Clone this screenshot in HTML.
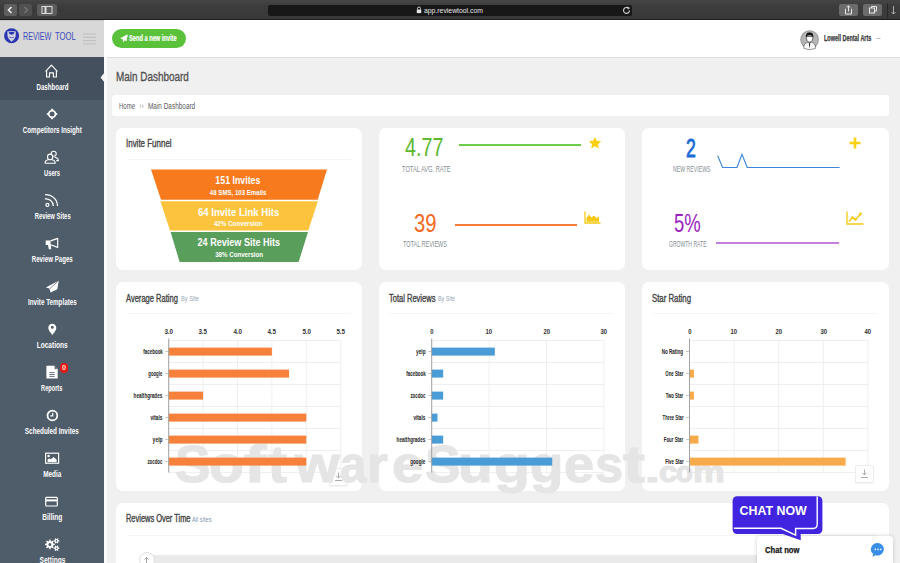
<!DOCTYPE html>
<html><head><meta charset="utf-8">
<style>
*{box-sizing:border-box;margin:0;padding:0}
html,body{width:900px;height:563px;overflow:hidden;background:#f0f0f0;font-family:"Liberation Sans",sans-serif;position:relative}
.a{position:absolute}
.t{position:absolute;white-space:nowrap;line-height:1}
svg{position:absolute;overflow:visible}
.card{position:absolute;background:#fff;border-radius:7px}
</style></head><body>
<div class="a" style="left:0;top:0;width:900px;height:20px;background:linear-gradient(#454545,#3c3c3c 30%,#393939)"></div>
<div class="a" style="left:0;top:18.7px;width:900px;height:1.3px;background:#1e1e1e"></div>
<div class="a" style="left:4px;top:4px;width:13px;height:12px;background:#5e5e5e;border-radius:2px"></div>
<div class="a" style="left:19px;top:4px;width:13px;height:12px;background:#505050;border-radius:2px"></div>
<div class="a" style="left:37px;top:4px;width:20px;height:12px;background:#5c5c5c;border-radius:2px"></div>
<svg style="left:4px;top:4px" width="13" height="12"><path d="M7.5 3 L4.5 6 L7.5 9" stroke="#eee" stroke-width="1.6" fill="none"/></svg>
<svg style="left:19px;top:4px" width="13" height="12"><path d="M5.5 3 L8.5 6 L5.5 9" stroke="#777" stroke-width="1.4" fill="none"/></svg>
<svg style="left:37px;top:4px" width="20" height="12"><rect x="5" y="2.5" width="10" height="7" stroke="#ddd" stroke-width="1" fill="none"/><rect x="7.5" y="3" width="2" height="6" fill="#ddd"/></svg>
<div class="a" style="left:268px;top:5px;width:364px;height:11px;background:#171717;border-radius:2px"></div>
<svg style="left:416px;top:6px" width="6" height="8"><path d="M1.5 3.5 V2.5 A1.5 1.5 0 0 1 4.5 2.5 V3.5" stroke="#ddd" stroke-width="0.9" fill="none"/><rect x="0.8" y="3.5" width="4.4" height="3.6" fill="#e6e6e6"/></svg>
<svg style="left:622px;top:5px" width="10" height="11"><path d="M7.5 5.5 A3 3 0 1 1 6.5 3.2" stroke="#ccc" stroke-width="1.2" fill="none"/><path d="M5.5 1.5 L8 3 L5.8 4.8 Z" fill="#ccc"/></svg>
<div class="a" style="left:839px;top:4px;width:19px;height:12px;background:#6c6c6c;border-radius:2px"></div>
<div class="a" style="left:863px;top:4px;width:19px;height:12px;background:#6c6c6c;border-radius:2px"></div>
<svg style="left:839px;top:4px" width="19" height="12"><path d="M7 5 H6.5 V10 H12.5 V5 H12 M9.5 7.5 V1.8 M7.8 3.5 L9.5 1.8 L11.2 3.5" stroke="#e8e8e8" stroke-width="1" fill="none"/></svg>
<svg style="left:863px;top:4px" width="19" height="12"><rect x="6.5" y="4" width="5" height="5" stroke="#e8e8e8" stroke-width="1" fill="none"/><path d="M8.5 4 V2.5 H13.5 V7 H11.5" stroke="#e8e8e8" stroke-width="1" fill="none"/></svg>
<div class="a" style="left:887px;top:3px;width:1px;height:15px;background:#282828"></div>
<svg style="left:889px;top:5px" width="9" height="11"><path d="M4.5 1 V9 M2.5 7 L4.5 9 L6.5 7" stroke="#bbb" stroke-width="0.9" fill="none"/></svg>
<div class="a" style="left:0;top:20px;width:900px;height:37px;background:#fff"></div>
<div class="a" style="left:0;top:56.5px;width:900px;height:1.5px;background:#dedede"></div>
<div class="a" style="left:104px;top:57px;width:2.5px;height:506px;background:#fafafa"></div>
<div class="a" style="left:0;top:20px;width:104px;height:37px;background:#d8d8d8"></div>
<div class="a" style="left:0;top:20px;width:104px;height:1px;background:#c6c6c6"></div>
<svg style="left:3px;top:27px" width="18" height="18" viewBox="0 0 18 18"><circle cx="8.6" cy="8.8" r="7.5" fill="#2a36b2"/><path d="M4.3 4.6 Q8.6 3.2 12.9 4.6 L12.6 9.3 Q12.2 12.2 8.6 14.8 Q5 12.2 4.6 9.3 Z" fill="#cfd0e0"/><path d="M5.6 5.2 Q8.6 4.2 11.6 5.2 Q11.2 7.6 8.6 7.8 Q6 7.6 5.6 5.2 Z" fill="#2a36b2"/><path d="M6.2 10.2 Q8.6 11.2 11 10.2" stroke="#2a36b2" stroke-width="0.6" fill="none"/></svg>
<svg style="left:83px;top:33px" width="13" height="12"><path d="M0 1 H13 M0 4.3 H13 M0 7.6 H13 M0 10.9 H13" stroke="#bdbdbd" stroke-width="1" fill="none"/></svg>
<div class="a" style="left:112px;top:29px;width:74px;height:19px;background:#59c13a;border-radius:10px"></div>
<svg style="left:120px;top:34px" width="8" height="9" viewBox="0 0 8 9"><path d="M7.8 0.3 L0.2 4.3 L2.6 5.2 L3.4 8.6 L4.6 6.2 L6.6 7.3 Z" fill="#fff"/></svg>
<svg style="left:800px;top:30px" width="20" height="20" viewBox="0 0 20 20"><circle cx="9.6" cy="9.6" r="9.4" fill="#9c9c9c"/><circle cx="9.6" cy="9.6" r="8.4" fill="#b4b4b4"/><path d="M3.8 18.4 Q3.5 13 8 12.2 L9.6 13 L11.2 12.2 Q15.7 13 15.4 18.4 Q9.6 21 3.8 18.4 Z" fill="#fafafa" stroke="#333" stroke-width="0.5"/><path d="M8.9 13.2 L9.6 18.8 L10.3 13.2 Z" fill="#111"/><path d="M6.3 6.5 Q6.3 11.8 9.6 12.2 Q12.9 11.8 12.9 6.5 Z" fill="#fff" stroke="#222" stroke-width="0.6"/><path d="M5.9 7.5 Q5.5 2.2 9.6 2.4 Q13.7 2.2 13.3 7.5 Q12.6 5.2 9.6 5.0 Q6.6 5.2 5.9 7.5 Z" fill="#111"/></svg>
<svg style="left:876px;top:37px" width="5" height="3"><path d="M0.5 1.5 H4.5" stroke="#bbb" stroke-width="1" fill="none"/></svg>
<div class="a" style="left:0;top:57px;width:104px;height:506px;background:#4f5c6a"></div>
<div class="a" style="left:0;top:57px;width:104px;height:43px;background:#44505d"></div>
<svg style="left:100px;top:72px" width="5" height="11"><path d="M5 0 L0.5 5.5 L5 11 Z" fill="#f6f6f6"/></svg>
<svg style="left:45px;top:63.5px" width="14" height="14" viewBox="0 0 14 14"><path d="M0.9 7.2 L6.4 1.2 L12.1 7.2" stroke="#fff" fill="none" stroke-width="1.15" stroke-linejoin="round" stroke-linecap="round"/><path d="M1.6 6.5 V13 H4.5 V8.9 H8.4 V13 H11.4 V6.5" stroke="#fff" fill="none" stroke-width="1.15" stroke-linejoin="round"/></svg>
<svg style="left:45px;top:106.5px" width="14" height="14" viewBox="0 0 14 14"><circle cx="7.1" cy="7" r="3.3" stroke="#fff" fill="none" stroke-width="1.6"/><path d="M7.1 1.3 L5.3 3.6 H8.9 Z M7.1 12.7 L5.3 10.4 H8.9 Z M1.4 7 L3.7 5.2 V8.8 Z M12.8 7 L10.5 5.2 V8.8 Z" fill="#fff"/></svg>
<svg style="left:45px;top:149.5px" width="14" height="14" viewBox="0 0 14 14"><circle cx="8.7" cy="3.8" r="2.5" stroke="#fff" fill="none" stroke-width="1.1"/><path d="M9.6 7.2 Q13.4 7.8 13.4 10.6 H11.2" stroke="#fff" fill="none" stroke-width="1.1"/><path d="M5.1 4.2 A2.7 2.9 0 1 1 5.09 4.2 Z" fill="#4f5c6a"/><ellipse cx="5.1" cy="6.9" rx="2.6" ry="2.8" stroke="#fff" fill="none" stroke-width="1.15"/><path d="M0 13.2 Q0 10.2 3.3 9.8 M6.9 9.8 Q10.2 10.2 10.2 13.2 H0" stroke="#fff" fill="none" stroke-width="1.15" stroke-linejoin="round"/></svg>
<svg style="left:45px;top:192.5px" width="14" height="14" viewBox="0 0 14 14"><circle cx="2.4" cy="11.9" r="1.5" stroke="#fff" fill="none" stroke-width="1.2"/><path d="M-0.2 5.9 A7.2 7.2 0 0 1 8.3 12.9 M0.1 1.8 A11.3 11.3 0 0 1 12.5 12.9" stroke="#fff" fill="none" stroke-width="1.25"/></svg>
<svg style="left:45px;top:235.5px" width="14" height="14" viewBox="0 0 14 14"><path d="M0.7 4.6 H5.6 V8.9 H0.7 Z M3 8.9 H5.8 L6.2 13.2 H3.8 Z" fill="#fff"/><path d="M5.6 4.9 L12.7 2.4 V11.4 L5.6 8.7" stroke="#fff" fill="none" stroke-width="1.15" stroke-linejoin="round"/></svg>
<svg style="left:45px;top:278.5px" width="14" height="14" viewBox="0 0 14 14"><path d="M13.8 1.5 L0.9 8.6 L4.3 9.6 L5.6 13.5 L12.3 10.2 Z" fill="#fff"/><path d="M13.6 1.7 L4.5 9.9" stroke="#4f5c6a" stroke-width="0.7"/></svg>
<svg style="left:45px;top:321.5px" width="14" height="14" viewBox="0 0 14 14"><path fill-rule="evenodd" d="M7.3 1.8 C4.9 1.8 3.3 3.6 3.3 5.9 C3.3 8.4 7.3 12.8 7.3 12.8 C7.3 12.8 11.3 8.4 11.3 5.9 C11.3 3.6 9.7 1.8 7.3 1.8 Z M7.3 3.8 A1.5 1.5 0 1 0 7.3 6.8 A1.5 1.5 0 1 0 7.3 3.8 Z" fill="#fff"/></svg>
<svg style="left:45px;top:364.5px" width="14" height="14" viewBox="0 0 14 14"><path d="M1.4 0.8 H9.3 L12.7 4.2 V13.6 H1.4 Z" fill="#fff"/><path d="M9.3 0.8 V4.2 H12.7" fill="#4f5c6a" stroke="#fff" stroke-width="0.5"/><path d="M4.3 7.6 H9.6 M4.3 9.5 H9.6 M4.3 11.4 H9.6" stroke="#4f5c6a" stroke-width="0.85"/></svg>
<svg style="left:45px;top:407.5px" width="14" height="14" viewBox="0 0 14 14"><circle cx="7.4" cy="7.5" r="4.9" stroke="#fff" fill="none" stroke-width="1.8"/><path d="M7.7 4.7 V7.9 H5.3" stroke="#fff" fill="none" stroke-width="1.15"/></svg>
<svg style="left:45px;top:450.5px" width="14" height="14" viewBox="0 0 14 14"><rect x="0.6" y="2.2" width="13" height="10" stroke="#fff" fill="none" stroke-width="1.2"/><circle cx="3.6" cy="5.0" r="1.2" fill="#fff"/><path d="M2.6 10.9 V8.6 L4.4 7.4 L6.0 8.2 L8.6 5.9 L11.6 8.4 V10.9 Z" fill="#fff"/></svg>
<svg style="left:45px;top:493.5px" width="14" height="14" viewBox="0 0 14 14"><rect x="0.7" y="3.4" width="11.6" height="8.6" rx="0.8" stroke="#fff" fill="none" stroke-width="1.2"/><path d="M0.7 6.4 H12.3" stroke="#fff" stroke-width="2.0"/></svg>
<svg style="left:45px;top:536.5px" width="14" height="14" viewBox="0 0 14 14"><path fill-rule="evenodd" fill="#fff" d="M8.30 6.58 L9.76 6.77 L9.76 8.03 L8.30 8.22 L7.89 9.22 L8.78 10.39 L7.89 11.28 L6.72 10.39 L5.72 10.80 L5.53 12.26 L4.27 12.26 L4.08 10.80 L3.08 10.39 L1.91 11.28 L1.02 10.39 L1.91 9.22 L1.50 8.22 L0.04 8.03 L0.04 6.77 L1.50 6.58 L1.91 5.58 L1.02 4.41 L1.91 3.52 L3.08 4.41 L4.08 4.00 L4.27 2.54 L5.53 2.54 L5.72 4.00 L6.72 4.41 L7.89 3.52 L8.78 4.41 L7.89 5.58 Z M6.40 7.40 A1.5 1.5 0 1 0 3.40 7.40 A1.5 1.5 0 1 0 6.40 7.40 Z"/><path fill-rule="evenodd" fill="#fff" d="M13.40 3.28 L14.36 3.40 L14.36 4.40 L13.40 4.52 L12.99 5.23 L13.36 6.12 L12.50 6.62 L11.91 5.86 L11.09 5.86 L10.50 6.62 L9.64 6.12 L10.01 5.23 L9.60 4.52 L8.64 4.40 L8.64 3.40 L9.60 3.28 L10.01 2.57 L9.64 1.68 L10.50 1.18 L11.09 1.94 L11.91 1.94 L12.50 1.18 L13.36 1.68 L12.99 2.57 Z M12.30 3.90 A0.8 0.8 0 1 0 10.70 3.90 A0.8 0.8 0 1 0 12.30 3.90 Z"/><path fill-rule="evenodd" fill="#fff" d="M13.40 10.58 L14.36 10.70 L14.36 11.70 L13.40 11.82 L12.99 12.53 L13.36 13.42 L12.50 13.92 L11.91 13.16 L11.09 13.16 L10.50 13.92 L9.64 13.42 L10.01 12.53 L9.60 11.82 L8.64 11.70 L8.64 10.70 L9.60 10.58 L10.01 9.87 L9.64 8.98 L10.50 8.48 L11.09 9.24 L11.91 9.24 L12.50 8.48 L13.36 8.98 L12.99 9.87 Z M12.30 11.20 A0.8 0.8 0 1 0 10.70 11.20 A0.8 0.8 0 1 0 12.30 11.20 Z"/></svg>
<div class="a" style="left:59.5px;top:362.5px;width:8px;height:10px;background:#e8141a;border-radius:4px"></div>
<div class="a" style="left:112px;top:94.5px;width:777px;height:21.5px;background:#fff;border-radius:3px"></div>
<div class="card" style="left:116px;top:128px;width:246px;height:142px"></div>
<div class="card" style="left:379px;top:128px;width:246px;height:142px"></div>
<div class="card" style="left:642px;top:128px;width:247px;height:142px"></div>
<div class="card" style="left:116px;top:282px;width:246px;height:209px"></div>
<div class="card" style="left:379px;top:282px;width:246px;height:209px"></div>
<div class="card" style="left:642px;top:282px;width:247px;height:209px"></div>
<div class="card" style="left:116px;top:503px;width:773px;height:90px"></div>
<div class="a" style="left:127px;top:159px;width:224px;height:1px;background:#f5f5f5"></div>
<svg style="left:0;top:0" width="900" height="563"><polygon points="151,169.5 327,169.5 317.7,199.8 161,199.8" fill="#f77a1c"/><polygon points="160.4,201.2 317.9,201.2 308.3,230.6 170,230.6" fill="#fcc43c"/><polygon points="170.6,231.9 308,231.9 298.6,262 179.6,262" fill="#5a9e5c"/></svg>
<div class="a" style="left:458.5px;top:144px;width:122px;height:2px;background:#6ccc4c"></div>
<svg style="left:588px;top:136px" width="14" height="14" viewBox="0 0 24 24"><path d="M12 1.5 L15.2 8.3 L22.6 9.1 L17 14.1 L18.6 21.5 L12 17.7 L5.4 21.5 L7 14.1 L1.4 9.1 L8.8 8.3 Z" fill="#fbcf12"/></svg>
<div class="a" style="left:454.5px;top:223.5px;width:122px;height:2px;background:#f47a3c"></div>
<svg style="left:584px;top:211px" width="17" height="13" viewBox="0 0 17 13"><path d="M1 0.5 V12 H16.5" stroke="#f6ca14" stroke-width="1.3" fill="none"/><path d="M2.5 10.8 V7 L5 3.5 L7.5 6.5 L10 4.5 L12.5 7 L15 5.5 V10.8 Z" fill="#f6ca14"/></svg>
<svg style="left:0;top:0" width="900" height="563"><polyline points="717.7,155.8 722.6,167.5 737,167.5 742,154.3 747.2,167.5 839.6,167.5" stroke="#3d86d6" stroke-width="1.15" fill="none"/></svg>
<svg style="left:849px;top:137px" width="12" height="12" viewBox="0 0 12 12"><path d="M6 0.5 V11.5 M0.5 6 H11.5" stroke="#fbcf12" stroke-width="2.6"/></svg>
<div class="a" style="left:716px;top:242px;width:123px;height:1.5px;background:#c77ee0"></div>
<svg style="left:846px;top:211px" width="18" height="14" viewBox="0 0 18 14"><path d="M1 0.5 V13 H17.5" stroke="#f6ca14" stroke-width="1.3" fill="none"/><path d="M3 10.5 L6.5 6.5 L9.5 8.5 L14.5 3" stroke="#f6ca14" stroke-width="1.6" fill="none"/><circle cx="6.5" cy="6.5" r="1.2" fill="#f6ca14"/><circle cx="9.5" cy="8.5" r="1.2" fill="#f6ca14"/><circle cx="14.5" cy="3" r="1.4" fill="#f6ca14"/></svg>
<div class="a" style="left:127px;top:313px;width:224px;height:1px;background:#f5f5f5"></div>
<svg style="left:0;top:0" width="900" height="563"><line x1="168.70" y1="340.5" x2="168.70" y2="472.5" stroke="#efefef" stroke-width="1"/><line x1="203.10" y1="340.5" x2="203.10" y2="472.5" stroke="#efefef" stroke-width="1"/><line x1="237.50" y1="340.5" x2="237.50" y2="472.5" stroke="#efefef" stroke-width="1"/><line x1="271.90" y1="340.5" x2="271.90" y2="472.5" stroke="#efefef" stroke-width="1"/><line x1="306.30" y1="340.5" x2="306.30" y2="472.5" stroke="#efefef" stroke-width="1"/><line x1="340.70" y1="340.5" x2="340.70" y2="472.5" stroke="#efefef" stroke-width="1"/><line x1="168.7" y1="340.5" x2="340.6" y2="340.5" stroke="#efefef" stroke-width="1"/><line x1="168.7" y1="362.5" x2="340.6" y2="362.5" stroke="#efefef" stroke-width="1"/><line x1="168.7" y1="384.5" x2="340.6" y2="384.5" stroke="#efefef" stroke-width="1"/><line x1="168.7" y1="406.5" x2="340.6" y2="406.5" stroke="#efefef" stroke-width="1"/><line x1="168.7" y1="428.5" x2="340.6" y2="428.5" stroke="#efefef" stroke-width="1"/><line x1="168.7" y1="450.5" x2="340.6" y2="450.5" stroke="#efefef" stroke-width="1"/><line x1="168.7" y1="472.5" x2="340.6" y2="472.5" stroke="#efefef" stroke-width="1"/></svg>
<svg style="left:0;top:0;z-index:2" width="900" height="563"><rect x="168.7" y="347.6" width="103.20" height="8" fill="#f7813b"/><line x1="165.2" y1="351.5" x2="168.7" y2="351.5" stroke="#bbb" stroke-width="0.8"/><rect x="168.7" y="369.6" width="120.40" height="8" fill="#f7813b"/><line x1="165.2" y1="373.5" x2="168.7" y2="373.5" stroke="#bbb" stroke-width="0.8"/><rect x="168.7" y="391.6" width="34.40" height="8" fill="#f7813b"/><line x1="165.2" y1="395.5" x2="168.7" y2="395.5" stroke="#bbb" stroke-width="0.8"/><rect x="168.7" y="413.6" width="137.60" height="8" fill="#f7813b"/><line x1="165.2" y1="417.5" x2="168.7" y2="417.5" stroke="#bbb" stroke-width="0.8"/><rect x="168.7" y="435.6" width="137.60" height="8" fill="#f7813b"/><line x1="165.2" y1="439.5" x2="168.7" y2="439.5" stroke="#bbb" stroke-width="0.8"/><rect x="168.7" y="457.6" width="137.60" height="8" fill="#f7813b"/><line x1="165.2" y1="461.5" x2="168.7" y2="461.5" stroke="#bbb" stroke-width="0.8"/><line x1="168.7" y1="338.5" x2="168.7" y2="472.5" stroke="#9a9a9a" stroke-width="0.9"/></svg>
<div class="a" style="left:390px;top:313px;width:224px;height:1px;background:#f5f5f5"></div>
<svg style="left:0;top:0" width="900" height="563"><line x1="431.70" y1="340.5" x2="431.70" y2="472.5" stroke="#efefef" stroke-width="1"/><line x1="489.10" y1="340.5" x2="489.10" y2="472.5" stroke="#efefef" stroke-width="1"/><line x1="546.50" y1="340.5" x2="546.50" y2="472.5" stroke="#efefef" stroke-width="1"/><line x1="603.90" y1="340.5" x2="603.90" y2="472.5" stroke="#efefef" stroke-width="1"/><line x1="431.7" y1="340.5" x2="603.6" y2="340.5" stroke="#efefef" stroke-width="1"/><line x1="431.7" y1="362.5" x2="603.6" y2="362.5" stroke="#efefef" stroke-width="1"/><line x1="431.7" y1="384.5" x2="603.6" y2="384.5" stroke="#efefef" stroke-width="1"/><line x1="431.7" y1="406.5" x2="603.6" y2="406.5" stroke="#efefef" stroke-width="1"/><line x1="431.7" y1="428.5" x2="603.6" y2="428.5" stroke="#efefef" stroke-width="1"/><line x1="431.7" y1="450.5" x2="603.6" y2="450.5" stroke="#efefef" stroke-width="1"/><line x1="431.7" y1="472.5" x2="603.6" y2="472.5" stroke="#efefef" stroke-width="1"/></svg>
<svg style="left:0;top:0;z-index:2" width="900" height="563"><rect x="431.7" y="347.6" width="63.14" height="8" fill="#4a9cd6"/><line x1="428.2" y1="351.5" x2="431.7" y2="351.5" stroke="#bbb" stroke-width="0.8"/><rect x="431.7" y="369.6" width="11.48" height="8" fill="#4a9cd6"/><line x1="428.2" y1="373.5" x2="431.7" y2="373.5" stroke="#bbb" stroke-width="0.8"/><rect x="431.7" y="391.6" width="11.48" height="8" fill="#4a9cd6"/><line x1="428.2" y1="395.5" x2="431.7" y2="395.5" stroke="#bbb" stroke-width="0.8"/><rect x="431.7" y="413.6" width="5.74" height="8" fill="#4a9cd6"/><line x1="428.2" y1="417.5" x2="431.7" y2="417.5" stroke="#bbb" stroke-width="0.8"/><rect x="431.7" y="435.6" width="11.48" height="8" fill="#4a9cd6"/><line x1="428.2" y1="439.5" x2="431.7" y2="439.5" stroke="#bbb" stroke-width="0.8"/><rect x="431.7" y="457.6" width="120.54" height="8" fill="#4a9cd6"/><line x1="428.2" y1="461.5" x2="431.7" y2="461.5" stroke="#bbb" stroke-width="0.8"/><line x1="431.7" y1="338.5" x2="431.7" y2="472.5" stroke="#9a9a9a" stroke-width="0.9"/></svg>
<div class="a" style="left:653px;top:313px;width:224px;height:1px;background:#f5f5f5"></div>
<svg style="left:0;top:0" width="900" height="563"><line x1="689.50" y1="340.5" x2="689.50" y2="472.5" stroke="#efefef" stroke-width="1"/><line x1="734.10" y1="340.5" x2="734.10" y2="472.5" stroke="#efefef" stroke-width="1"/><line x1="778.70" y1="340.5" x2="778.70" y2="472.5" stroke="#efefef" stroke-width="1"/><line x1="823.30" y1="340.5" x2="823.30" y2="472.5" stroke="#efefef" stroke-width="1"/><line x1="867.90" y1="340.5" x2="867.90" y2="472.5" stroke="#efefef" stroke-width="1"/><line x1="689.5" y1="340.5" x2="867.8" y2="340.5" stroke="#efefef" stroke-width="1"/><line x1="689.5" y1="362.5" x2="867.8" y2="362.5" stroke="#efefef" stroke-width="1"/><line x1="689.5" y1="384.5" x2="867.8" y2="384.5" stroke="#efefef" stroke-width="1"/><line x1="689.5" y1="406.5" x2="867.8" y2="406.5" stroke="#efefef" stroke-width="1"/><line x1="689.5" y1="428.5" x2="867.8" y2="428.5" stroke="#efefef" stroke-width="1"/><line x1="689.5" y1="450.5" x2="867.8" y2="450.5" stroke="#efefef" stroke-width="1"/><line x1="689.5" y1="472.5" x2="867.8" y2="472.5" stroke="#efefef" stroke-width="1"/></svg>
<svg style="left:0;top:0;z-index:2" width="900" height="563"><line x1="686.0" y1="351.5" x2="689.5" y2="351.5" stroke="#bbb" stroke-width="0.8"/><rect x="689.5" y="369.6" width="4.46" height="8" fill="#f8aa4b"/><line x1="686.0" y1="373.5" x2="689.5" y2="373.5" stroke="#bbb" stroke-width="0.8"/><rect x="689.5" y="391.6" width="4.46" height="8" fill="#f8aa4b"/><line x1="686.0" y1="395.5" x2="689.5" y2="395.5" stroke="#bbb" stroke-width="0.8"/><line x1="686.0" y1="417.5" x2="689.5" y2="417.5" stroke="#bbb" stroke-width="0.8"/><rect x="689.5" y="435.6" width="8.92" height="8" fill="#f8aa4b"/><line x1="686.0" y1="439.5" x2="689.5" y2="439.5" stroke="#bbb" stroke-width="0.8"/><rect x="689.5" y="457.6" width="156.10" height="8" fill="#f8aa4b"/><line x1="686.0" y1="461.5" x2="689.5" y2="461.5" stroke="#bbb" stroke-width="0.8"/><line x1="689.5" y1="338.5" x2="689.5" y2="472.5" stroke="#9a9a9a" stroke-width="0.9"/></svg>
<div class="a" style="left:329px;top:467.5px;width:19px;height:18px;border:1px solid #ececec;border-radius:2px;background:#fdfdfd;box-shadow:0 1px 1px rgba(0,0,0,0.05)"></div>
<svg style="left:334px;top:471.5px" width="9" height="10"><path d="M4.5 0.5 V6 M2.3 3.8 L4.5 6 L6.7 3.8 M1 8.5 H8" stroke="#aaa" stroke-width="1" fill="none"/></svg>
<div class="a" style="left:855px;top:465px;width:19px;height:18px;border:1px solid #ececec;border-radius:2px;background:#fdfdfd;box-shadow:0 1px 1px rgba(0,0,0,0.05)"></div>
<svg style="left:860px;top:469px" width="9" height="10"><path d="M4.5 0.5 V6 M2.3 3.8 L4.5 6 L6.7 3.8 M1 8.5 H8" stroke="#aaa" stroke-width="1" fill="none"/></svg>
<div class="a" style="left:127px;top:535px;width:751px;height:1px;background:#f5f5f5"></div>
<div class="a" style="left:146px;top:554.5px;width:743px;height:10px;background:#eaeaea"></div>
<div class="a" style="left:138.5px;top:552px;width:16px;height:16px;border-radius:8px;background:#fff;border:1px solid #e0e0e0"></div>
<svg style="left:143px;top:556px" width="7" height="8"><path d="M3.5 7 V1.5 M1.5 3.5 L3.5 1.5 L5.5 3.5" stroke="#999" stroke-width="0.9" fill="none"/></svg>
<div class="t" style="left:423.90px;top:6.87px;font-size:7px;font-weight:normal;color:#e6e6e6;transform:scaleX(0.977);transform-origin:0 0;">app.reviewtool.com</div>
<div class="t" style="left:22.70px;top:32.17px;font-size:10.2px;font-weight:normal;color:#3c4ab8;transform:scaleX(0.706);transform-origin:0 0;">REVIEW</div>
<div class="t" style="left:55.10px;top:32.17px;font-size:10.2px;font-weight:normal;color:#3c4ab8;transform:scaleX(0.758);transform-origin:0 0;">TOOL</div>
<div class="t" style="left:129.40px;top:34.25px;font-size:8.8px;font-weight:bold;color:#ffffff;transform:scaleX(0.645);transform-origin:0 0;-webkit-text-stroke:0.2px #fff;">Send a new invite</div>
<div class="t" style="left:824.00px;top:34.32px;font-size:8.6px;font-weight:bold;color:#3a3a3a;transform:scaleX(0.634);transform-origin:0 0;-webkit-text-stroke:0.25px #3a3a3a;">Lowell Dental Arts</div>
<div class="t" style="left:27.72px;top:81.94px;font-size:9.4px;font-weight:bold;color:#ffffff;transform:scaleX(0.653);transform-origin:50% 0;">Dashboard</div>
<div class="t" style="left:7.93px;top:124.94px;font-size:9.4px;font-weight:bold;color:#ffffff;transform:scaleX(0.666);transform-origin:50% 0;">Competitors Insight</div>
<div class="t" style="left:39.17px;top:167.94px;font-size:9.4px;font-weight:bold;color:#ffffff;transform:scaleX(0.614);transform-origin:50% 0;">Users</div>
<div class="t" style="left:23.54px;top:210.94px;font-size:9.4px;font-weight:bold;color:#ffffff;transform:scaleX(0.628);transform-origin:50% 0;">Review Sites</div>
<div class="t" style="left:20.93px;top:253.94px;font-size:9.4px;font-weight:bold;color:#ffffff;transform:scaleX(0.656);transform-origin:50% 0;">Review Pages</div>
<div class="t" style="left:15.82px;top:296.94px;font-size:9.4px;font-weight:bold;color:#ffffff;transform:scaleX(0.669);transform-origin:50% 0;">Invite Templates</div>
<div class="t" style="left:30.06px;top:339.94px;font-size:9.4px;font-weight:bold;color:#ffffff;transform:scaleX(0.700);transform-origin:50% 0;">Locations</div>
<div class="t" style="left:34.49px;top:382.94px;font-size:9.4px;font-weight:bold;color:#ffffff;transform:scaleX(0.599);transform-origin:50% 0;">Reports</div>
<div class="t" style="left:12.34px;top:425.94px;font-size:9.4px;font-weight:bold;color:#ffffff;transform:scaleX(0.677);transform-origin:50% 0;">Scheduled Invites</div>
<div class="t" style="left:38.91px;top:468.94px;font-size:9.4px;font-weight:bold;color:#ffffff;transform:scaleX(0.677);transform-origin:50% 0;">Media</div>
<div class="t" style="left:37.87px;top:511.94px;font-size:9.4px;font-weight:bold;color:#ffffff;transform:scaleX(0.698);transform-origin:50% 0;">Billing</div>
<div class="t" style="left:33.71px;top:554.94px;font-size:9.4px;font-weight:bold;color:#ffffff;transform:scaleX(0.703);transform-origin:50% 0;">Settings</div>
<div class="t" style="left:61.50px;top:365.00px;font-size:6.5px;font-weight:bold;color:#ffe9c8;transform:scaleX(1.103);transform-origin:0 0;">0</div>
<div class="t" style="left:116.10px;top:70.40px;font-size:13.7px;font-weight:normal;color:#505050;transform:scaleX(0.725);transform-origin:0 0;-webkit-text-stroke:0.35px #505050;">Main Dashboard</div>
<div class="t" style="left:118.90px;top:101.87px;font-size:8.3px;font-weight:normal;color:#5a5a5a;transform:scaleX(0.727);transform-origin:0 0;">Home</div>
<div class="t" style="left:139.40px;top:101.87px;font-size:8.3px;font-weight:normal;color:#aaaaaa;transform:scaleX(0.904);transform-origin:0 0;">&rsaquo;&rsaquo;</div>
<div class="t" style="left:147.80px;top:101.87px;font-size:8.3px;font-weight:normal;color:#5a5a5a;transform:scaleX(0.775);transform-origin:0 0;">Main Dashboard</div>
<div class="t" style="left:126.40px;top:139.23px;font-size:10px;font-weight:normal;color:#444444;transform:scaleX(0.796);transform-origin:0 0;-webkit-text-stroke:0.35px #444;">Invite Funnel</div>
<div class="t" style="left:211.45px;top:175.11px;font-size:10.5px;font-weight:bold;color:#fff;transform:scaleX(0.838);transform-origin:50% 0;">151 Invites</div>
<div class="t" style="left:201.47px;top:188.73px;font-size:8px;font-weight:bold;color:#fff;transform:scaleX(0.762);transform-origin:50% 0;">48 SMS, 103 Emails</div>
<div class="t" style="left:194.06px;top:206.61px;font-size:10.5px;font-weight:bold;color:#fff;transform:scaleX(0.912);transform-origin:50% 0;">64 Invite Link Hits</div>
<div class="t" style="left:206.88px;top:219.63px;font-size:8px;font-weight:bold;color:#fff;transform:scaleX(0.778);transform-origin:50% 0;">42% Conversion</div>
<div class="t" style="left:190.84px;top:237.11px;font-size:10.5px;font-weight:bold;color:#fff;transform:scaleX(0.863);transform-origin:50% 0;">24 Review Site Hits</div>
<div class="t" style="left:207.88px;top:250.53px;font-size:8px;font-weight:bold;color:#fff;transform:scaleX(0.771);transform-origin:50% 0;">38% Conversion</div>
<div class="t" style="left:405.30px;top:135.44px;font-size:25px;font-weight:normal;color:#5cb82e;transform:scaleX(0.789);transform-origin:0 0;">4.77</div>
<div class="t" style="left:401.50px;top:164.72px;font-size:8.6px;font-weight:normal;color:#878e94;transform:scaleX(0.664);transform-origin:0 0;">TOTAL AVG. RATE</div>
<div class="t" style="left:413.50px;top:209.99px;font-size:26px;font-weight:normal;color:#f36a22;transform:scaleX(0.778);transform-origin:0 0;">39</div>
<div class="t" style="left:402.80px;top:240.02px;font-size:8.6px;font-weight:normal;color:#878e94;transform:scaleX(0.640);transform-origin:0 0;">TOTAL REVIEWS</div>
<div class="t" style="left:685.80px;top:134.79px;font-size:26px;font-weight:normal;color:#1a6ad6;transform:scaleX(0.677);transform-origin:0 0;-webkit-text-stroke:0.9px #1a6ad6;">2</div>
<div class="t" style="left:672.50px;top:164.72px;font-size:8.6px;font-weight:normal;color:#878e94;transform:scaleX(0.604);transform-origin:0 0;">NEW REVIEWS</div>
<div class="t" style="left:674.30px;top:210.84px;font-size:25px;font-weight:normal;color:#9a20c0;transform:scaleX(0.739);transform-origin:0 0;">5%</div>
<div class="t" style="left:669.20px;top:240.02px;font-size:8.6px;font-weight:normal;color:#878e94;transform:scaleX(0.588);transform-origin:0 0;">GROWTH RATE</div>
<div class="t" style="left:126.40px;top:293.84px;font-size:10px;font-weight:normal;color:#444444;transform:scaleX(0.755);transform-origin:0 0;-webkit-text-stroke:0.35px #444;">Average Rating</div>
<div class="t" style="left:180.50px;top:295.40px;font-size:7.8px;font-weight:normal;color:#97a6b6;transform:scaleX(0.729);transform-origin:0 0;">By Site</div>
<div class="t" style="left:163.97px;top:328.84px;font-size:6.8px;font-weight:bold;color:#333;transform:scaleX(0.920);transform-origin:50% 0;">3.0</div>
<div class="t" style="left:198.37px;top:328.84px;font-size:6.8px;font-weight:bold;color:#333;transform:scaleX(0.920);transform-origin:50% 0;">3.5</div>
<div class="t" style="left:232.77px;top:328.84px;font-size:6.8px;font-weight:bold;color:#333;transform:scaleX(0.920);transform-origin:50% 0;">4.0</div>
<div class="t" style="left:267.17px;top:328.84px;font-size:6.8px;font-weight:bold;color:#333;transform:scaleX(0.920);transform-origin:50% 0;">4.5</div>
<div class="t" style="left:301.57px;top:328.84px;font-size:6.8px;font-weight:bold;color:#333;transform:scaleX(0.920);transform-origin:50% 0;">5.0</div>
<div class="t" style="left:335.97px;top:328.84px;font-size:6.8px;font-weight:bold;color:#333;transform:scaleX(0.920);transform-origin:50% 0;">5.5</div>
<div class="t" style="left:132.66px;top:348.74px;font-size:6.8px;font-weight:bold;color:#222;transform:scaleX(0.653);transform-origin:100% 0;z-index:2;">facebook</div>
<div class="t" style="left:140.22px;top:370.74px;font-size:6.8px;font-weight:bold;color:#222;transform:scaleX(0.628);transform-origin:100% 0;z-index:2;">google</div>
<div class="t" style="left:120.19px;top:392.74px;font-size:6.8px;font-weight:bold;color:#222;transform:scaleX(0.678);transform-origin:100% 0;z-index:2;">healthgrades</div>
<div class="t" style="left:145.11px;top:414.74px;font-size:6.8px;font-weight:bold;color:#222;transform:scaleX(0.690);transform-origin:100% 0;z-index:2;">vitals</div>
<div class="t" style="left:148.89px;top:436.74px;font-size:6.8px;font-weight:bold;color:#222;transform:scaleX(0.735);transform-origin:100% 0;z-index:2;">yelp</div>
<div class="t" style="left:139.08px;top:458.74px;font-size:6.8px;font-weight:bold;color:#222;transform:scaleX(0.640);transform-origin:100% 0;z-index:2;">zocdoc</div>
<div class="t" style="left:389.40px;top:293.84px;font-size:10px;font-weight:normal;color:#444444;transform:scaleX(0.752);transform-origin:0 0;-webkit-text-stroke:0.35px #444;">Total Reviews</div>
<div class="t" style="left:438.00px;top:295.40px;font-size:7.8px;font-weight:normal;color:#97a6b6;transform:scaleX(0.688);transform-origin:0 0;">By Site</div>
<div class="t" style="left:429.81px;top:328.84px;font-size:6.8px;font-weight:bold;color:#333;transform:scaleX(0.873);transform-origin:50% 0;">0</div>
<div class="t" style="left:485.32px;top:328.84px;font-size:6.8px;font-weight:bold;color:#333;transform:scaleX(0.873);transform-origin:50% 0;">10</div>
<div class="t" style="left:542.72px;top:328.84px;font-size:6.8px;font-weight:bold;color:#333;transform:scaleX(0.873);transform-origin:50% 0;">20</div>
<div class="t" style="left:600.12px;top:328.84px;font-size:6.8px;font-weight:bold;color:#333;transform:scaleX(0.873);transform-origin:50% 0;">30</div>
<div class="t" style="left:411.89px;top:348.74px;font-size:6.8px;font-weight:bold;color:#222;transform:scaleX(0.705);transform-origin:100% 0;z-index:2;">yelp</div>
<div class="t" style="left:395.66px;top:370.74px;font-size:6.8px;font-weight:bold;color:#222;transform:scaleX(0.660);transform-origin:100% 0;z-index:2;">facebook</div>
<div class="t" style="left:402.08px;top:392.74px;font-size:6.8px;font-weight:bold;color:#222;transform:scaleX(0.640);transform-origin:100% 0;z-index:2;">zocdoc</div>
<div class="t" style="left:408.11px;top:414.74px;font-size:6.8px;font-weight:bold;color:#222;transform:scaleX(0.690);transform-origin:100% 0;z-index:2;">vitals</div>
<div class="t" style="left:383.19px;top:436.74px;font-size:6.8px;font-weight:bold;color:#222;transform:scaleX(0.678);transform-origin:100% 0;z-index:2;">healthgrades</div>
<div class="t" style="left:403.22px;top:458.74px;font-size:6.8px;font-weight:bold;color:#222;transform:scaleX(0.673);transform-origin:100% 0;z-index:2;">google</div>
<div class="t" style="left:652.40px;top:293.84px;font-size:10px;font-weight:normal;color:#444444;transform:scaleX(0.780);transform-origin:0 0;-webkit-text-stroke:0.35px #444;">Star Rating</div>
<div class="t" style="left:687.61px;top:328.84px;font-size:6.8px;font-weight:bold;color:#333;transform:scaleX(0.873);transform-origin:50% 0;">0</div>
<div class="t" style="left:730.32px;top:328.84px;font-size:6.8px;font-weight:bold;color:#333;transform:scaleX(0.873);transform-origin:50% 0;">10</div>
<div class="t" style="left:774.92px;top:328.84px;font-size:6.8px;font-weight:bold;color:#333;transform:scaleX(0.873);transform-origin:50% 0;">20</div>
<div class="t" style="left:819.52px;top:328.84px;font-size:6.8px;font-weight:bold;color:#333;transform:scaleX(0.873);transform-origin:50% 0;">30</div>
<div class="t" style="left:864.12px;top:328.84px;font-size:6.8px;font-weight:bold;color:#333;transform:scaleX(0.873);transform-origin:50% 0;">40</div>
<div class="t" style="left:651.21px;top:348.74px;font-size:6.8px;font-weight:bold;color:#222;transform:scaleX(0.667);transform-origin:100% 0;z-index:2;">No Rating</div>
<div class="t" style="left:654.96px;top:370.74px;font-size:6.8px;font-weight:bold;color:#222;transform:scaleX(0.635);transform-origin:100% 0;z-index:2;">One Star</div>
<div class="t" style="left:655.10px;top:392.74px;font-size:6.8px;font-weight:bold;color:#222;transform:scaleX(0.620);transform-origin:100% 0;z-index:2;">Two Star</div>
<div class="t" style="left:649.67px;top:414.74px;font-size:6.8px;font-weight:bold;color:#222;transform:scaleX(0.625);transform-origin:100% 0;z-index:2;">Three Star</div>
<div class="t" style="left:653.08px;top:436.74px;font-size:6.8px;font-weight:bold;color:#222;transform:scaleX(0.645);transform-origin:100% 0;z-index:2;">Four Star</div>
<div class="t" style="left:654.58px;top:458.74px;font-size:6.8px;font-weight:bold;color:#222;transform:scaleX(0.644);transform-origin:100% 0;z-index:2;">Five Star</div>
<div class="t" style="left:126.00px;top:514.33px;font-size:10px;font-weight:normal;color:#444444;transform:scaleX(0.744);transform-origin:0 0;-webkit-text-stroke:0.35px #444;">Reviews Over Time</div>
<div class="t" style="left:192.20px;top:516.00px;font-size:7.8px;font-weight:normal;color:#7f97b4;transform:scaleX(0.726);transform-origin:0 0;">All sites</div>
<div class="t" style="z-index:1;left:175.19px;top:437.9px;font-size:52.5px;font-weight:bold;color:#e5e5e5;-webkit-text-stroke:1.2px #e5e5e5;transform:scaleX(1.013);transform-origin:0 0">S</div>
<div class="t" style="z-index:1;left:208.96px;top:437.9px;font-size:52.5px;font-weight:bold;color:#e5e5e5;-webkit-text-stroke:1.2px #e5e5e5;transform:scaleX(1.082);transform-origin:0 0">o</div>
<div class="t" style="z-index:1;left:244.24px;top:437.9px;font-size:52.5px;font-weight:bold;color:#e5e5e5;-webkit-text-stroke:1.2px #e5e5e5;transform:scaleX(1.277);transform-origin:0 0">f</div>
<div class="t" style="z-index:1;left:268.32px;top:437.9px;font-size:52.5px;font-weight:bold;color:#e5e5e5;-webkit-text-stroke:1.2px #e5e5e5;transform:scaleX(1.092);transform-origin:0 0">t</div>
<div class="t" style="z-index:1;left:295.00px;top:437.9px;font-size:52.5px;font-weight:bold;color:#e5e5e5;-webkit-text-stroke:1.2px #e5e5e5;transform:scaleX(1.093);transform-origin:0 0">w</div>
<div class="t" style="z-index:1;left:339.91px;top:437.9px;font-size:52.5px;font-weight:bold;color:#e5e5e5;-webkit-text-stroke:1.2px #e5e5e5;transform:scaleX(0.901);transform-origin:0 0">a</div>
<div class="t" style="z-index:1;left:366.58px;top:437.9px;font-size:52.5px;font-weight:bold;color:#e5e5e5;-webkit-text-stroke:1.2px #e5e5e5;transform:scaleX(1.016);transform-origin:0 0">r</div>
<div class="t" style="z-index:1;left:391.76px;top:437.9px;font-size:52.5px;font-weight:bold;color:#e5e5e5;-webkit-text-stroke:1.2px #e5e5e5;transform:scaleX(1.079);transform-origin:0 0">e</div>
<div class="t" style="z-index:1;left:424.69px;top:437.9px;font-size:52.5px;font-weight:bold;color:#e5e5e5;-webkit-text-stroke:1.2px #e5e5e5;transform:scaleX(1.013);transform-origin:0 0">S</div>
<div class="t" style="z-index:1;left:457.89px;top:437.9px;font-size:52.5px;font-weight:bold;color:#e5e5e5;-webkit-text-stroke:1.2px #e5e5e5;transform:scaleX(1.079);transform-origin:0 0">u</div>
<div class="t" style="z-index:1;left:494.48px;top:437.9px;font-size:52.5px;font-weight:bold;color:#e5e5e5;-webkit-text-stroke:1.2px #e5e5e5;transform:scaleX(1.122);transform-origin:0 0">g</div>
<div class="t" style="z-index:1;left:530.14px;top:437.9px;font-size:52.5px;font-weight:bold;color:#e5e5e5;-webkit-text-stroke:1.2px #e5e5e5;transform:scaleX(1.039);transform-origin:0 0">g</div>
<div class="t" style="z-index:1;left:563.55px;top:437.9px;font-size:52.5px;font-weight:bold;color:#e5e5e5;-webkit-text-stroke:1.2px #e5e5e5;transform:scaleX(1.033);transform-origin:0 0">e</div>
<div class="t" style="z-index:1;left:594.79px;top:437.9px;font-size:52.5px;font-weight:bold;color:#e5e5e5;-webkit-text-stroke:1.2px #e5e5e5;transform:scaleX(0.965);transform-origin:0 0">s</div>
<div class="t" style="z-index:1;left:623.15px;top:437.9px;font-size:52.5px;font-weight:bold;color:#e5e5e5;-webkit-text-stroke:1.2px #e5e5e5;transform:scaleX(1.262);transform-origin:0 0">t</div>
<div class="t" style="z-index:1;left:644.80px;top:457.10px;font-size:30px;font-weight:bold;color:#e5e5e5;-webkit-text-stroke:1.2px #e5e5e5;transform:scaleX(1.760);transform-origin:0 0">.</div>
<div class="t" style="z-index:1;left:659.00px;top:457.10px;font-size:30px;font-weight:bold;color:#e5e5e5;-webkit-text-stroke:1.2px #e5e5e5;transform:scaleX(1.100);transform-origin:0 0">c</div>
<div class="t" style="z-index:1;left:676.17px;top:457.10px;font-size:30px;font-weight:bold;color:#e5e5e5;-webkit-text-stroke:1.2px #e5e5e5;transform:scaleX(0.917);transform-origin:0 0">o</div>
<div class="t" style="z-index:1;left:692.84px;top:457.10px;font-size:30px;font-weight:bold;color:#e5e5e5;-webkit-text-stroke:1.2px #e5e5e5;transform:scaleX(1.188);transform-origin:0 0">m</div>
<div class="a" style="z-index:3;left:757px;top:536px;width:136px;height:30px;background:#fff;border-radius:4px;box-shadow:0 0 4px rgba(0,0,0,0.18)"></div>
<div class="t" style="z-index:3;left:765px;top:545.5px;font-size:8.5px;font-weight:bold;color:#151515;-webkit-text-stroke:0.25px #151515;transform:scaleX(0.9);transform-origin:0 0">Chat now</div>
<svg style="z-index:3;left:870px;top:542px" width="16" height="16" viewBox="0 0 16 16"><path d="M8 1 A6.8 6.3 0 1 1 5.2 13.3 L2.5 15 L3.2 12 A6.8 6.3 0 0 1 8 1 Z" fill="#3b8ee6"/><circle cx="5.3" cy="7.4" r="0.8" fill="#fff"/><circle cx="8" cy="7.4" r="0.8" fill="#fff"/><circle cx="10.7" cy="7.4" r="0.8" fill="#fff"/></svg>
<svg style="z-index:3;left:728px;top:491px" width="100" height="52" viewBox="0 0 100 52"><rect x="4.6" y="5.2" width="89.8" height="37.9" rx="4.5" fill="#4024e0"/><path d="M52 42 L72.8 49.2 L72.6 42 Z" fill="#4024e0"/><path d="M5.8 37.3 H53 L67.6 44.2 V37.5 H85 Q89.2 37.5 89.2 33.3 V5.5" fill="none" stroke="#fff" stroke-width="1.4"/></svg>
<div class="t" style="z-index:3;left:739.5px;top:505px;font-size:12.4px;font-weight:bold;color:#fff">CHAT NOW</div>
</body></html>
